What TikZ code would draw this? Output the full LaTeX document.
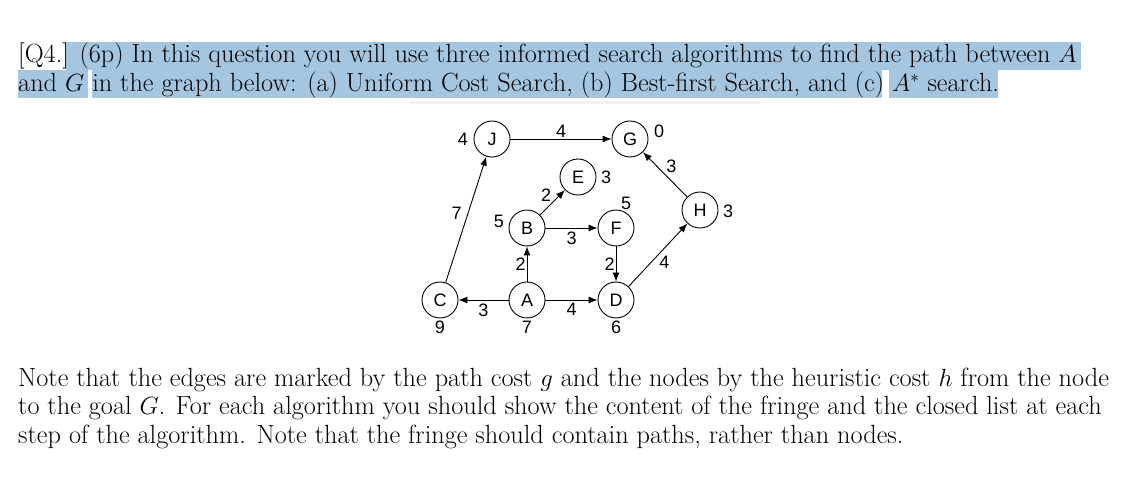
\documentclass[tikz,border=0pt]{standalone}
\usepackage{fontspec}
\newfontfamily\gfont{Liberation Sans}
\usetikzlibrary{arrows.meta}
\definecolor{hl}{RGB}{164,198,224}
\begin{document}
\begin{tikzpicture}[x=1pt,y=-1pt,
  vtx/.style={circle,draw,line width=0.9pt,minimum size=36pt,inner sep=0pt,font=\gfont\fontsize{18}{18}\selectfont},
  lbl/.style={font=\gfont\fontsize{18}{18}\selectfont,inner sep=1pt},
  edge/.style={-{Latex[length=9pt,width=7pt]},line width=0.9pt},
  txt/.style={anchor=base west,inner sep=0pt,font=\fontsize{26.3}{29}\selectfont}]
\useasboundingbox (0,0) rectangle (1133,478);
% highlights
\fill[hl] (66,42) rectangle (1081,70);
\fill[hl] (18,70) rectangle (88,98);
\fill[hl] (92,70) rectangle (882,98);
\fill[hl] (889,70) rectangle (998,98);
\fill[gray!12] (410,101) rectangle (760,104);
\node[txt] (l1) at (18,63) {[Q4.] (6p) In this question you will use three informed search algorithms to find the path between $A$};
\node[txt] (l2) at (18,92) {and $G$ in the graph below: (a) Uniform Cost Search, (b) Best-first Search, and (c) $A^*$ search.};
\node[txt] (l3) at (18,386) {Note that the edges are marked by the path cost $g$ and the nodes by the heuristic cost $h$ from the node};
\node[txt] (l4) at (18,414) {to the goal $G$. For each algorithm you should show the content of the fringe and the closed list at each};
\node[txt] (l5) at (18,443) {step of the algorithm. Note that the fringe should contain paths, rather than nodes.};
% graph
\node[vtx] (J) at (492,139) {J};
\node[vtx] (G) at (630,139) {G};
\node[vtx] (E) at (578,177) {E};
\node[vtx] (B) at (527,228) {B};
\node[vtx] (F) at (616,228) {F};
\node[vtx] (H) at (700,210) {H};
\node[vtx] (C) at (440,300) {C};
\node[vtx] (A) at (527,300) {A};
\node[vtx] (D) at (616,300) {D};
\node[lbl] at (463,139) {4};
\node[lbl] at (659,131) {0};
\node[lbl] at (606,177) {3};
\node[lbl] at (499,221) {5};
\node[lbl] at (626,203) {5};
\node[lbl] at (728,211) {3};
\node[lbl] at (440,327) {9};
\node[lbl] at (527,327) {7};
\node[lbl] at (616,327) {6};
\draw[edge] (J) -- node[lbl,above] {4} (G);
\draw[edge] (C) -- node[lbl,pos=0.55,left=5pt] {7} (J);
\draw[edge] (A) -- node[lbl,left] {2} (B);
\draw[edge] (A) -- node[lbl,below=2pt] {3} (C);
\draw[edge] (A) -- node[lbl,below=2pt] {4} (D);
\draw[edge] (B) -- node[lbl,above left] {2} (E);
\draw[edge] (B) -- node[lbl,below=2pt] {3} (F);
\draw[edge] (F) -- node[lbl,left] {2} (D);
\draw[edge] (D) -- node[lbl,below right] {4} (H);
\draw[edge] (H) -- node[lbl,above right] {3} (G);
\end{tikzpicture}
\end{document}
